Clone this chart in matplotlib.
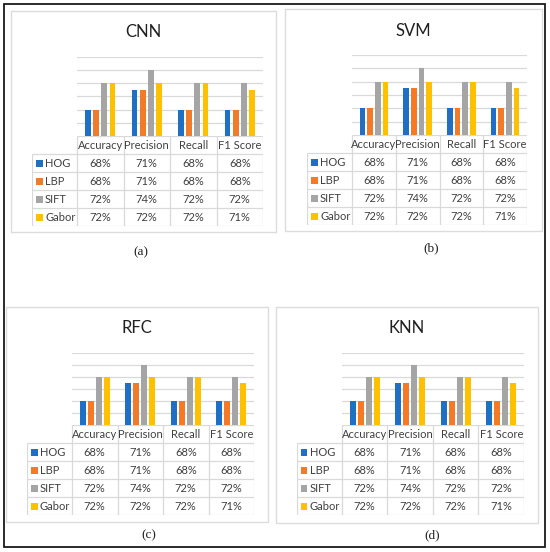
import matplotlib
matplotlib.use("Agg")
import matplotlib.pyplot as plt
from matplotlib.patches import Rectangle
import numpy as np

W, H = 550, 552

metrics = ["Accuracy", "Precision", "Recall", "F1 Score"]
features = ["HOG", "LBP", "SIFT", "Gabor"]
feature_colors = ["#1F6FC5", "#F27A28", "#A5A5A5", "#FFC000"]

models = ["CNN", "SVM", "RFC", "KNN"]
panel_tags = ["(a)", "(b)", "(c)", "(d)"]

# accuracy values (%) per feature, per metric -- identical for all four models
hog = [68, 71, 68, 68]
lbp = [68, 71, 68, 68]
sift = [72, 74, 72, 72]
gabor = [72, 72, 72, 71]
model_scores = {m: [hog, lbp, sift, gabor] for m in models}

y_min, y_max, y_step = 64, 76, 2

# pixel layout of each panel: box, title, plot area, table rows, label col, tag
layouts = [
    dict(box=(11, 11, 276, 232), title=(143, 32), plot=(77, 263, 57, 136),
         lab=32, rows=(154, 226), tag=(141, 252)),
    dict(box=(285, 9, 542, 231), title=(413, 31), plot=(352, 527, 55, 135),
         lab=307, rows=(153, 225), tag=(431, 248)),
    dict(box=(6, 307, 268, 522), title=(137, 328), plot=(72, 254, 353, 425),
         lab=27, rows=(443, 515), tag=(149, 535)),
    dict(box=(276, 307, 538, 523), title=(407, 328), plot=(342, 524, 353, 425),
         lab=297, rows=(443, 515), tag=(432, 535)),
]

plt.rcParams["font.family"] = ["Lato", "DejaVu Sans"]
text_color = "#404040"
line_color = "#D9D9D9"
fs = 8.0


def fig_rect(x0, y0, x1, y1):
    return [x0 / W, 1 - y1 / H, (x1 - x0) / W, (y1 - y0) / H]


fig = plt.figure(figsize=(W / 100, H / 100), dpi=100)
fig.patch.set_facecolor("white")

# overall page frame and panel boxes, drawn in pixel coordinates
bg = fig.add_axes([0, 0, 1, 1])
bg.set_xlim(0, W)
bg.set_ylim(H, 0)
bg.axis("off")
bg.add_patch(Rectangle((3.5, 4), 541.5, 543, fill=False, ec="#1A1A1A", lw=1.3))

for model, tag, lay in zip(models, panel_tags, layouts):
    bx0, by0, bx1, by1 = lay["box"]
    bg.add_patch(Rectangle((bx0, by0), bx1 - bx0, by1 - by0,
                           fill=False, ec="#DCDCDC", lw=1.0))
    bg.text(lay["title"][0], lay["title"][1], model, ha="center", va="center",
            fontsize=12, color="#202020")
    bg.text(lay["tag"][0], lay["tag"][1], tag, ha="center", va="center",
            fontsize=9.5, color="#202020", family="Liberation Serif")

    # bar chart
    px0, px1, py0, py1 = lay["plot"]
    ax = fig.add_axes(fig_rect(px0, py0, px1, py1))
    x = np.arange(len(metrics))
    pitch, width = 0.176, 0.127
    for i, (feat, col) in enumerate(zip(features, feature_colors)):
        vals = model_scores[model][i]
        ax.bar(x + (i - 1.5) * pitch, vals, width=width, color=col, zorder=3)
    ax.set_xlim(-0.5, len(metrics) - 0.5)
    ax.set_ylim(y_min, y_max)
    ax.set_yticks(np.arange(y_min + y_step, y_max + 0.1, y_step))
    ax.yaxis.grid(True, color=line_color, lw=0.9, zorder=0)
    ax.tick_params(left=False, bottom=False, labelleft=False, labelbottom=False)
    for s in ax.spines.values():
        s.set_visible(False)

    # data table below the bars
    r0, r1 = lay["rows"]
    lab = lay["lab"]
    tab = fig.add_axes(fig_rect(lab, py1, px1, r1))
    tab.set_xlim(lab, px1)
    tab.set_ylim(r1, py1)
    tab.axis("off")
    col_w = (px1 - px0) / len(metrics)
    row_h = (r1 - r0) / len(features)
    lk = dict(color=line_color, lw=0.9, solid_capstyle="butt")
    # header cells
    tab.plot([px0, px1], [py1, py1], **lk)
    for j in range(len(metrics) + 1):
        tab.plot([px0 + j * col_w] * 2, [py1, r1], **lk)
    tab.plot([lab, lab], [r0, r1], **lk)
    for i in range(len(features) + 1):
        tab.plot([lab, px1], [r0 + i * row_h] * 2, **lk)
    for j, m in enumerate(metrics):
        tab.text(px0 + (j + 0.5) * col_w, (py1 + r0) / 2 + 0.5, m,
                 ha="center", va="center", fontsize=fs, color=text_color)
    for i, (feat, col) in enumerate(zip(features, feature_colors)):
        yc = r0 + (i + 0.5) * row_h
        tab.add_patch(Rectangle((lab + 4, yc - 3), 6.5, 6.5, color=col, lw=0))
        tab.text(lab + 13, yc + 0.5, feat, ha="left", va="center",
                 fontsize=fs, color=text_color)
        for j in range(len(metrics)):
            tab.text(px0 + (j + 0.5) * col_w, yc + 0.5,
                     f"{model_scores[model][i][j]}%", ha="center", va="center",
                     fontsize=fs, color=text_color)

fig.savefig("out.png", dpi=100)
